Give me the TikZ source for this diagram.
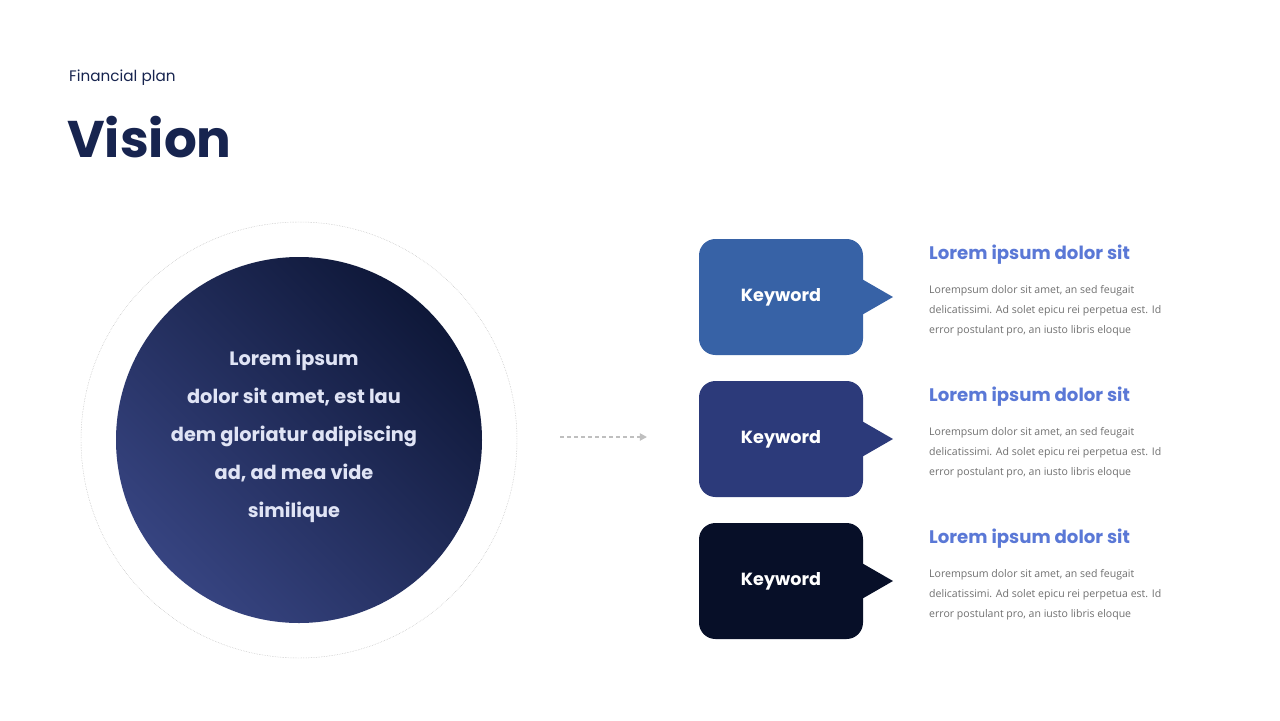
\documentclass[tikz,border=0pt]{standalone}
\usepackage{fontspec}
\setmainfont{Poppins}
\newfontfamily\bodyfont{Open Sans}
\usetikzlibrary{arrows.meta}
\definecolor{navy}{HTML}{17244F}
\definecolor{boxA}{HTML}{3762A6}
\definecolor{boxB}{HTML}{2C3A7A}
\definecolor{boxC}{HTML}{070F28}
\definecolor{headblue}{HTML}{5A78D6}
\definecolor{bodygray}{HTML}{707070}
\definecolor{lavender}{HTML}{E0E4F5}
\begin{document}
\begin{tikzpicture}[
        x=0.03cm, y=-0.03cm,
        keybox/.style={rounded corners=14pt, minimum width=164*0.03cm, minimum height=116*0.03cm,
            inner sep=0pt, text=white, font=\fontsize{15}{18}\selectfont\bfseries},
        head/.style={anchor=west, text=headblue, font=\fontsize{15.5}{18}\selectfont\bfseries, inner sep=0pt},
        body/.style={anchor=north west, text=bodygray, inner sep=0pt, align=left,
            font=\bodyfont\fontsize{9}{17.3}\selectfont},
    ]
    \useasboundingbox[fill=white] (0,0) rectangle (1280,720);

    \node[anchor=west, inner sep=0pt, text=navy, font=\fontsize{13}{15}\selectfont] (sub) at (69,78) {Financial plan};
    \node[anchor=west, inner sep=0pt, text=navy, font=\fontsize{44}{50}\selectfont\bfseries] (title) at (67,137) {Vision};

    % big circle
    \draw[gray!60, densely dotted] (299,440) circle[radius=218];
    \shade[left color=boxB!95!white, right color=boxC!80!boxB, shading angle=135] (299,440) circle[radius=183];
    \node[text=lavender, align=center, font=\fontsize{16.5}{32.5}\selectfont\bfseries] (center) at (294,436)
        {Lorem ipsum\\dolor sit amet, est lau\\dem gloriatur adipiscing\\ad, ad mea vide\\similique};

    \coordinate (arrS) at (560,437);
    \coordinate (arrE) at (647,437);
    \draw[gray!50, line width=1.5pt, dashed, -{Triangle[length=6pt,width=6pt]}] (arrS) -- (arrE);

    % keyword boxes
    \foreach \y/\c/\n in {297/boxA/1, 439/boxB/2, 581/boxC/3}{
        \fill[\c] (860,\y-19) -- (893,\y) -- (860,\y+19) -- cycle;
        \node[keybox, fill=\c] (key\n) at (781,\y) {Keyword};
        \node[head] (head\n) at (929,\y-42) {Lorem ipsum dolor sit};
        \node[body] (body\n) at (929,\y-12) {Lorempsum dolor sit amet, an sed feugait\\delicatissimi. Ad solet epicu rei perpetua est. Id\\error postulant pro, an iusto libris eloque};
    }
\end{tikzpicture}
\end{document}
